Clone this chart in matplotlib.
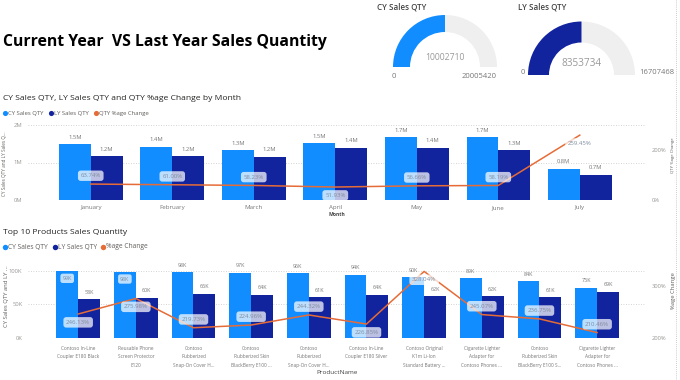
import numpy as np
import matplotlib.pyplot as plt
from matplotlib.patches import Wedge

plt.rcParams['font.family'] = ['Open Sans', 'DejaVu Sans']

# gauge totals
cy_total, cy_max = 10002710, 20005420
ly_total, ly_max = 8353734, 16707468

# sales by month
months = ['January', 'February', 'March', 'April', 'May', 'June', 'July']
cy_month = [1.49e6, 1.42e6, 1.33e6, 1.51e6, 1.68e6, 1.68e6, 0.83e6]
ly_month = [1.17e6, 1.17e6, 1.16e6, 1.39e6, 1.39e6, 1.33e6, 0.67e6]
pct_month = [63.74, 61.00, 58.23, 51.93, 56.66, 58.19, 259.45]

# top 10 products
products = ['Contoso In-Line\nCoupler E180 Black',
            'Reusable Phone\nScreen Protector\nE120',
            'Contoso\nRubberized\nSnap-On Cover H...',
            'Contoso\nRubberized Skin\nBlackBerry E100 ...',
            'Contoso\nRubberized\nSnap-On Cover H...',
            'Contoso In-Line\nCoupler E180 Silver',
            'Contoso Original\nK1m Li-Ion\nStandard Battery ...',
            'Cigarette Lighter\nAdapter for\nContoso Phones ...',
            'Contoso\nRubberized Skin\nBlackBerry E100 S...',
            'Cigarette Lighter\nAdapter for\nContoso Phones ...']
cy_prod = [99e3, 98e3, 98e3, 97e3, 96e3, 94e3, 90e3, 89e3, 84e3, 75e3]
ly_prod = [58e3, 60e3, 66e3, 64e3, 61e3, 64e3, 62e3, 62e3, 61e3, 69e3]
pct_prod = [246.13, 275.98, 219.73, 224.96, 244.32, 226.85, 328.04, 245.07, 236.75, 210.46]

# where the data labels sit (1 above the point, -1 below)
month_side = [1, 1, 1, -1, 1, 1, -1]
prod_side = [-1, -1, 1, 1, 1, -1, -1, 1, 1, 1]
prod_inside = [True, True] + [False] * 8

CY_C = '#118DFF'
LY_C = '#12239E'
LINE_C = '#E66C37'
GRID_C = '#C8C6C4'
TICK_C = '#9A9896'
TXT_C = '#252423'

W, H = 680, 380


def box(l, t, r, b):
    return [l / W, 1 - b / H, (r - l) / W, (b - t) / H]


def fx(px):
    return px / W


def fy(py):
    return 1 - py / H


fig = plt.figure(figsize=(6.8, 3.8), dpi=100)

# overlay for gauges, legends and headers
ov = fig.add_axes([0, 0, 1, 1])
ov.set_xlim(0, W)
ov.set_ylim(0, H)
ov.axis('off')


def gauge(cx, cyp, r, th, val, vmax, color):
    split = 180 * (1 - val / vmax)
    c = (cx, H - cyp)
    ov.add_patch(Wedge(c, r, 0, split, width=th, color='#EFEFEF', lw=0))
    ov.add_patch(Wedge(c, r, split, 180, width=th, color=color, lw=0))


gauge(445, 67, 52, 17, cy_total, cy_max, CY_C)
gauge(581.5, 75, 53.5, 21, ly_total, ly_max, LY_C)

fig.text(fx(377), fy(7), 'CY Sales QTY', fontsize=5.8, color='#444444', va='center', weight='semibold')
fig.text(fx(518), fy(7), 'LY Sales QTY', fontsize=5.8, color='#444444', va='center', weight='semibold')
fig.text(fx(445), fy(57), str(cy_total), fontsize=6.2, color='#9A9A9A', ha='center', va='center')
fig.text(fx(394), fy(76), '0', fontsize=5.5, color='#777777', ha='center', va='center')
fig.text(fx(479), fy(76), str(cy_max), fontsize=5.5, color='#777777', ha='center', va='center')
fig.text(fx(582), fy(63), str(ly_total), fontsize=7.2, color='#9A9A9A', ha='center', va='center')
fig.text(fx(523), fy(72), '0', fontsize=5.5, color='#777777', ha='center', va='center')
fig.text(fx(657), fy(72), str(ly_max), fontsize=5.5, color='#777777', ha='center', va='center')

fig.text(fx(3), fy(42), 'Current Year  VS Last Year Sales Quantity', fontsize=11.3, weight='bold',
         color='black', va='center')

ov.plot([676, 676], [0, H], color='#BBBBBB', lw=0.6, ls=(0, (1, 1.5)))


def legend(y, items, xs, size):
    for (lab, col), x in zip(items, xs):
        ov.scatter([x], [H - y], s=size * 3.2, color=col, lw=0)
        fig.text(fx(x + 3), fy(y), lab, fontsize=size, color='#605E5C', va='center')


# ---------- chart 1: by month ----------
fig.text(fx(3), fy(98), 'CY Sales QTY, LY Sales QTY and QTY %age Change by Month',
         fontsize=6.1, color=TXT_C, va='center')
legend(113, [('CY Sales QTY', CY_C), ('LY Sales QTY', LY_C), ('QTY %age Change', LINE_C)],
       [5, 51, 96], 4.3)

ax1 = fig.add_axes(box(28, 125, 645, 200))
x1 = np.arange(len(months))
bw1 = 0.39
ax1.bar(x1 - bw1 / 2, cy_month, bw1, color=CY_C, zorder=2)
ax1.bar(x1 + bw1 / 2, ly_month, bw1, color=LY_C, zorder=2)
ax1.set_xlim(-0.77, 6.8)
ax1.set_ylim(0, 2e6)
ax1.set_yticks([0, 1e6, 2e6], ['0M', '1M', '2M'])
ax1.set_xticks(x1, months)
ax1.grid(axis='y', ls=(0, (1, 2)), color=GRID_C, lw=0.6, zorder=0)
ax1.tick_params(axis='y', length=0, labelsize=4.2, colors=TICK_C, pad=4)
ax1.tick_params(axis='x', length=0, labelsize=4.4, colors='#777777', pad=3.5)
for s in ax1.spines.values():
    s.set_visible(False)
for xi, c, l in zip(x1, cy_month, ly_month):
    ax1.annotate(f'{c / 1e6:.1f}M', (xi - bw1 / 2, c), xytext=(0, 5), textcoords='offset points',
                 ha='center', va='center', fontsize=4.2, color='#777777')
    ax1.annotate(f'{l / 1e6:.1f}M', (xi + bw1 / 2, l), xytext=(0, 5), textcoords='offset points',
                 ha='center', va='center', fontsize=4.2, color='#777777')

ax1r = ax1.twinx()
ax1r.plot(x1, pct_month, color=LINE_C, lw=1.1, zorder=3)
ax1r.set_ylim(0, 300)
ax1r.set_yticks([0, 200], ['0%', '200%'])
ax1r.tick_params(length=0, labelsize=4.2, colors=TICK_C, pad=5)
for s in ax1r.spines.values():
    s.set_visible(False)
for xi, p, sd in zip(x1, pct_month, month_side):
    ax1r.annotate(f'{p:.2f}%', (xi, p), xytext=(0, 6 * sd), textcoords='offset points',
                  ha='center', va='center', fontsize=4.3, color='#7F8C9D', zorder=4,
                  bbox=dict(boxstyle='round,pad=0.45', fc='white', ec='none', alpha=0.72))

fig.text(fx(5), fy(164), 'CY Sales QTY and LY Sales Q...', rotation=90, fontsize=3.3,
         color='#605E5C', ha='center', va='center')
fig.text(fx(673), fy(155), 'QTY %age Change', rotation=90, fontsize=3.1,
         color='#605E5C', ha='center', va='center')
fig.text(fx(337), fy(214), 'Month', fontsize=3.6, weight='bold', color='#444444',
         ha='center', va='center')

# ---------- chart 2: top 10 products ----------
fig.text(fx(3), fy(232), 'Top 10 Products Sales Quantity', fontsize=6.1, color=TXT_C, va='center')
legend(247, [('CY Sales QTY', CY_C), ('LY Sales QTY', LY_C), ('%age Change', LINE_C)],
       [5, 55, 103], 4.8)

ax2 = fig.add_axes(box(28, 265, 645, 338))
x2 = np.arange(len(products))
bw2 = 0.38
ax2.bar(x2 - bw2 / 2, cy_prod, bw2, color=CY_C, zorder=2)
ax2.bar(x2 + bw2 / 2, ly_prod, bw2, color=LY_C, zorder=2)
ax2.set_xlim(-0.87, 9.83)
ax2.set_ylim(0, 108.5e3)
ax2.set_yticks([0, 50e3, 100e3], ['0K', '50K', '100K'])
ax2.set_xticks(x2, products)
ax2.grid(axis='y', ls=(0, (1, 2)), color=GRID_C, lw=0.6, zorder=0)
ax2.tick_params(axis='y', length=0, labelsize=4.2, colors=TICK_C, pad=4)
ax2.tick_params(axis='x', length=0, labelsize=3.4, colors='#777777', pad=5.5)
for t in ax2.get_xticklabels():
    t.set_linespacing(1.95)
for s in ax2.spines.values():
    s.set_visible(False)
for xi, c, l, ins in zip(x2, cy_prod, ly_prod, prod_inside):
    if ins:
        ax2.annotate(f'{c / 1e3:.0f}K', (xi - bw2 / 2, c), xytext=(0, -5), textcoords='offset points',
                     ha='center', va='center', fontsize=3.9, color='#7F8C9D',
                     bbox=dict(boxstyle='round,pad=0.4', fc='white', ec='none', alpha=0.72))
    else:
        ax2.annotate(f'{c / 1e3:.0f}K', (xi - bw2 / 2, c), xytext=(0, 5), textcoords='offset points',
                     ha='center', va='center', fontsize=3.9, color='#777777')
    ax2.annotate(f'{l / 1e3:.0f}K', (xi + bw2 / 2, l), xytext=(0, 5), textcoords='offset points',
                 ha='center', va='center', fontsize=3.9, color='#777777')

ax2r = ax2.twinx()
ax2r.plot(x2, pct_prod, color=LINE_C, lw=1.1, zorder=3)
ax2r.set_ylim(200, 340.4)
ax2r.set_yticks([200, 300], ['200%', '300%'])
ax2r.tick_params(length=0, labelsize=4.2, colors=TICK_C, pad=5)
for s in ax2r.spines.values():
    s.set_visible(False)
for xi, p, sd in zip(x2, pct_prod, prod_side):
    ax2r.annotate(f'{p:.2f}%', (xi, p), xytext=(0, 6 * sd), textcoords='offset points',
                  ha='center', va='center', fontsize=4.4, color='#7F8C9D', zorder=4,
                  bbox=dict(boxstyle='round,pad=0.45', fc='white', ec='none', alpha=0.72))

fig.text(fx(7), fy(296), 'CY Sales QTY and LY ...', rotation=90, fontsize=4.3,
         color='#605E5C', ha='center', va='center')
fig.text(fx(673), fy(291), '%age Change', rotation=90, fontsize=4.2,
         color='#605E5C', ha='center', va='center')
fig.text(fx(337), fy(372), 'ProductName', fontsize=4.6, color='#444444', ha='center', va='center')

fig.savefig('out.png', dpi=100)
